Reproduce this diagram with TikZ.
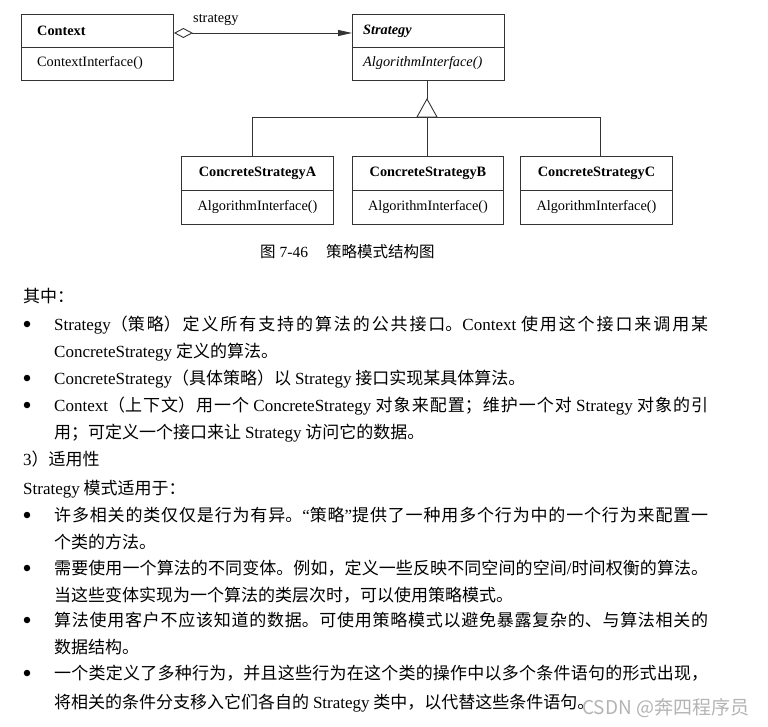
\documentclass[tikz,border=0pt]{standalone}
\usepackage{fontspec}
\setmainfont{Liberation Serif}
\newfontfamily\cjk{Noto Sans CJK SC}
\usetikzlibrary{arrows.meta}
\XeTeXlinebreaklocale "zh"
\XeTeXlinebreakskip=0pt plus 4pt minus 0.5pt
\definecolor{linec}{HTML}{333333}
\definecolor{wmark}{HTML}{B4B4B4}
\newcommand\en[1]{{\rmfamily\fontsize{17}{20}\selectfont #1}}
\newcommand\bodyfont{\cjk\fontsize{17}{20}\selectfont}
\newcommand\diagfont{\fontsize{14.3}{16}\selectfont}
\newcommand\fullpar[1]{{\parfillskip=0pt\relax #1\par}}
\tikzset{
  umlbox/.style={draw=linec, line width=0.9pt, minimum width=152pt, minimum height=66pt, inner sep=0pt, anchor=north west},
  uml/.style={draw=linec, line width=0.9pt},
  dtext/.style={inner sep=0pt, font=\diagfont, text=black},
  body/.style={inner sep=0pt, anchor=base west, font=\bodyfont},
  fullline/.style={body, text width=654pt, align=justify},
  bulletdot/.style={circle, fill=black, inner sep=0pt, minimum size=6.5pt},
}
\begin{document}
\begin{tikzpicture}[x=1pt,y=-1pt]
\fill[white] (0,0) rectangle (768,727);
\useasboundingbox (0,0) rectangle (768,727);

% Context
\node[umlbox] (ctx) at (21,14) {};
\draw[uml] (ctx.west) -- (ctx.east);
\node[dtext, anchor=west, font=\diagfont\bfseries] (ctxname) at (37,31) {Context};
\node[dtext, anchor=west] (ctxop) at (37,63) {ContextInterface()};

% Strategy
\node[umlbox] (str) at (352,14) {};
\draw[uml] (str.west) -- (str.east);
\node[dtext, anchor=west, font=\diagfont\bfseries\itshape] (strname) at (363,31) {Strategy};
\node[dtext, anchor=west, font=\diagfont\itshape] (strop) at (363,63) {AlgorithmInterface()};

% association
\draw[uml, {Diamond[open, length=19pt, width=10pt]}-{Triangle[length=14pt, width=6pt]}]
  ([yshift=-19pt]ctx.north east) -- ([yshift=-19pt]str.north west);
\node[dtext, anchor=west] (assoc) at (193,20) {strategy};

% concrete strategies
\node[umlbox, minimum height=68pt] (csa) at (181,156) {};
\node[umlbox, minimum height=68pt, minimum width=151pt] (csb) at (352,156) {};
\node[umlbox, minimum height=68pt] (csc) at (520,156) {};
\draw[uml] (csa.west) -- (csa.east);
\draw[uml] (csb.west) -- (csb.east);
\draw[uml] (csc.west) -- (csc.east);
\node[dtext, font=\diagfont\bfseries] (csan) at (csa.center |- 0,173) {ConcreteStrategyA};
\node[dtext, font=\diagfont\bfseries] (csbn) at (csb.center |- 0,173) {ConcreteStrategyB};
\node[dtext, font=\diagfont\bfseries] (cscn) at (csc.center |- 0,173) {ConcreteStrategyC};
\node[dtext] (csao) at (csa.center |- 0,207) {AlgorithmInterface()};
\node[dtext] (csbo) at (csb.center |- 0,207) {AlgorithmInterface()};
\node[dtext] (csco) at (csc.center |- 0,207) {AlgorithmInterface()};

% generalization
\coordinate (apex) at (427,99);
\coordinate (tbase) at (427,117);
\coordinate (ja) at (252,117);
\coordinate (jc) at (600,117);
\draw[uml] (str.south -| apex) -- (apex);
\draw[uml] (ja) -- (jc);
\draw[uml] (ja) -- (ja |- csa.north);
\draw[uml] (tbase) -- (tbase |- csb.north);
\draw[uml] (jc) -- (jc |- csc.north);
\draw[uml, fill=white, line join=miter] (apex) -- ([xshift=-10pt]tbase) -- ([xshift=10pt]tbase) -- cycle;

% caption
\node[anchor=west, inner sep=0pt, font=\fontsize{15.5}{18}\selectfont] (cap) at (260,252)
  {{\cjk 图}\hspace{4pt}7-46\hspace{18pt}{\cjk 策略模式结构图}};

% body text
\node[body] (t1) at (23,302) {其中：};
\node[bulletdot] (b1) at (27,324) {};
\node[fullline] (t2) at (54,330) {\fullpar{\en{Strategy}（策略）定义所有支持的算法的公共接口。\en{Context} 使用这个接口来调用某}};
\node[body] (t3) at (54,357) {\en{ConcreteStrategy} 定义的算法。};
\node[bulletdot] (b2) at (27,378) {};
\node[body] (t4) at (54,384) {\en{ConcreteStrategy}（具体策略）以 \en{Strategy} 接口实现某具体算法。};
\node[bulletdot] (b3) at (27,405) {};
\node[fullline] (t5) at (54,411) {\fullpar{\en{Context}（上下文）用一个 \en{ConcreteStrategy} 对象来配置；维护一个对 \en{Strategy} 对象的引}};
\node[body] (t6) at (54,438) {用；可定义一个接口来让 \en{Strategy} 访问它的数据。};
\node[body] (t7) at (23,465) {\en{3}）适用性};
\node[body] (t8) at (23,494) {\en{Strategy} 模式适用于：};
\node[bulletdot] (b4) at (27,515) {};
\node[fullline] (t9) at (54,521) {\fullpar{许多相关的类仅仅是行为有异。\en{“}策略\en{”}提供了一种用多个行为中的一个行为来配置一}};
\node[body] (t10) at (54,548) {个类的方法。};
\node[bulletdot] (b5) at (27,568) {};
\node[fullline] (t11) at (54,574) {\fullpar{需要使用一个算法的不同变体。例如，定义一些反映不同空间的空间\en{/}时间权衡的算法。}};
\node[body] (t12) at (54,601) {当这些变体实现为一个算法的类层次时，可以使用策略模式。};
\node[bulletdot] (b6) at (27,620) {};
\node[fullline] (t13) at (54,626) {\fullpar{算法使用客户不应该知道的数据。可使用策略模式以避免暴露复杂的、与算法相关的}};
\node[body] (t14) at (54,653) {数据结构。};
\node[bulletdot] (b7) at (27,673) {};
\node[fullline] (t15) at (54,679) {\fullpar{一个类定义了多种行为，并且这些行为在这个类的操作中以多个条件语句的形式出现，}};
\node[body] (t16) at (54,708) {将相关的条件分支移入它们各自的 \en{Strategy} 类中，以代替这些条件语句。};

% watermark
\node[anchor=west, inner sep=0pt, text=wmark, font=\cjk\fontsize{19}{22}\selectfont] (wm) at (582,708) {CSDN @奔四程序员};
\end{tikzpicture}
\end{document}
